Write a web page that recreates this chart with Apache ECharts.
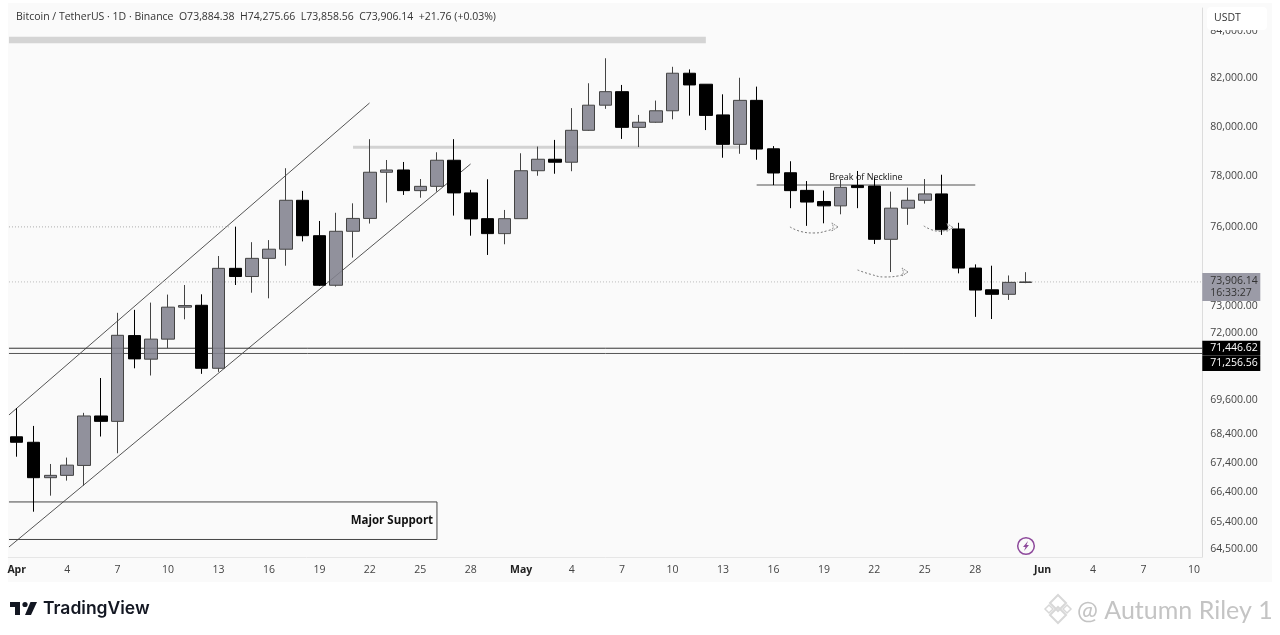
<!DOCTYPE html>
<html><head><meta charset="utf-8">
<style>html,body{margin:0;padding:0;background:#fff}#c{width:1280px;height:635px}</style>
<script src="https://cdn.jsdelivr.net/npm/echarts@6/dist/echarts.min.js"></script>
</head><body><div id="c"></div>
<script>
const dayLabels=['Apr','2','3','4','5','6','7','8','9','10','11','12','13','14','15','16','17','18','19','20','21','22','23','24','25','26','27','28','29','30',
'May','2','3','4','5','6','7','8','9','10','11','12','13','14','15','16','17','18','19','20','21','22','23','24','25','26','27','28','29','30','31',
'Jun','2','3','4','5','6','7','8','9','10'];
const shownDayIndexes=[0,3,6,9,12,15,18,21,24,27,30,33,36,39,42,45,48,51,54,57,61,64,67,70];
const monthLabels=['Apr','May','Jun'];
// open, close, low, high
const candles=[
[68290,68100,67600,69300],[68100,66880,65730,68670],[66880,66960,66270,67350],[66960,67310,66780,67570],[67300,69020,66610,69130],
[69020,68830,68300,70370],[68830,71920,67720,72750],[71910,71060,70720,72860],[71050,71780,70460,73130],[71780,72960,71450,73430],
[72960,73020,72510,73790],[73030,70720,70520,73440],[70720,74420,70590,74890],[74420,74110,73790,76020],[74110,74800,73500,75420],
[74800,75150,73290,75500],[75150,77050,74520,78320],[77050,75670,75450,77420],[75670,73780,73750,76240],[73780,75840,73730,76560],
[75840,76340,74830,76930],[76340,78160,76140,79490],[78160,78250,76960,78650],[78250,77430,77260,78570],[77430,77600,77150,77890],
[77600,78640,77390,78960],[78640,77340,76450,79490],[77340,76320,75670,77460],[76330,75750,74930,77880],[75750,76330,75340,76670],
[76330,78220,76330,78920],[78220,78680,78020,79190],[78680,78560,78100,79460],[78560,79850,78200,80760],[79850,80880,79830,81790],
[80880,81440,80730,82840],[81440,79970,79500,81720],[79970,80180,79170,80480],[80180,80650,80160,81070],[80650,82210,80300,82480],
[82210,81720,80450,82370],[81750,80460,79860,81750],[80480,79280,78740,81330],[79280,81080,78900,82020],[81080,79090,78660,81650],
[79100,78130,77650,79210],[78140,77430,76740,78600],[77440,76980,76050,77810],[77000,76830,76150,77430],[76830,77560,76500,77850],
[77630,77550,76740,78210],[77610,75530,75350,77930],[75530,76740,74280,77390],[76740,77050,76090,77550],[77050,77300,76920,77890],
[77300,75900,75700,78060],[75930,74430,74230,76170],[74430,73600,72600,74570],[73610,73440,72520,74520],[73440,73890,73230,74150],
[73884.38,73906.14,73858.56,74275.66]];
const priceTicks=[84000,82000,80000,78000,76000,73000,72000,69600,68400,67400,66400,65400,64500];
const channelUpper=[[-0.46,69056],[20.98,80970]];
const channelLower=[[-0.46,64557],[26.99,78490]];
const topBand=[[-0.46,83615],[40.98,83615]];
const resistance=[[20,79160],[43,79160]];
const neckline=[[44,77654],[57,77654]];
const dottedLevel=[[-0.46,76010],[12.68,76010]];
const lastPriceLine=[[-0.46,73906.14],[70.5,73906.14]];
const supportHigh=[[-0.46,71446.62],[70.5,71446.62]];
const supportLow=[[-0.46,71256.56],[70.5,71256.56]];
const majorSupportBox=[[-0.46,66058],[24.99,66058],[24.99,64805],[-0.46,64805]];
const arrowA=[[45.98,76009],[46.7,75820],[47.4,75775],[48.2,75860],[48.83,76009]];
const arrowB=[[50.0,74358],[50.8,74190],[51.6,74093],[52.4,74130],[53.0,74282]];
const arrowC=[[53.94,76046],[54.4,75900],[54.9,75840],[55.67,75990]];
const headerText='Bitcoin / TetherUS · 1D · Binance  O73,884.38  H74,275.66  L73,858.56  C73,906.14  +21.76 (+0.03%)';

const font='"Open Sans","Noto Sans",sans-serif';
function lineS(data,color,width,type,z){return {type:'line',xAxisIndex:1,yAxisIndex:0,data,showSymbol:false,symbol:'none',silent:true,z:z||1,animation:false,
 lineStyle:{color,width,type:type||'solid'}};}
function arrowS(pts){const d=pts.map((p,i)=>i===pts.length-1?{value:p,symbol:'arrow',symbolSize:6,symbolRotate:-90,itemStyle:{color:'#fafafa',borderColor:'#777',borderWidth:0.8,borderType:[2,1]}}:{value:p,symbol:'none'});
 return {type:'line',xAxisIndex:1,yAxisIndex:0,data:d,smooth:true,showAllSymbol:true,silent:true,z:3,animation:false,lineStyle:{color:'#777',width:1,type:[2,2]}};}
function tagS(pt,text,bg,fg,off,pad,z){return {type:'scatter',xAxisIndex:1,yAxisIndex:0,data:[pt],symbolSize:0,silent:true,z:z||10,animation:false,clip:false,itemStyle:{opacity:1},
 label:{show:true,position:'right',distance:0,offset:off,formatter:text,backgroundColor:bg,color:fg,fontFamily:font,fontSize:10.5,lineHeight:12,padding:pad,width:48,align:'left'}};}
function textS(pt,text,size,weight){return {type:'scatter',xAxisIndex:1,yAxisIndex:0,data:[pt],symbolSize:0,silent:true,z:6,animation:false,itemStyle:{opacity:1},
 label:{show:true,position:'inside',formatter:text,color:'#111',fontFamily:font,fontSize:size,fontWeight:weight}};}

const chart=echarts.init(document.getElementById('c'),null,{renderer:'canvas',width:1280,height:635});
chart.setOption({
 animation:false,backgroundColor:'#ffffff',
 grid:{left:8.3,right:77.7,top:8,bottom:78,containLabel:false},
 xAxis:[
  {type:'category',data:dayLabels,boundaryGap:true,
   axisLine:{show:true,lineStyle:{color:'#e6e6e6'}},axisTick:{show:false},splitLine:{show:false},
   axisLabel:{interval:i=>shownDayIndexes.includes(i),margin:8,color:'#444',fontFamily:font,fontSize:10.5,hideOverlap:false,
     formatter:v=>monthLabels.includes(v)?'{m|'+v+'}':v,rich:{m:{fontWeight:'bold',color:'#222',fontFamily:font,fontSize:10.5}}}},
  {type:'value',show:false,min:-0.5,max:70.5}
 ],
 yAxis:[{type:'log',logBase:10,min:64228,max:84992,position:'right',
   axisLine:{show:true,onZero:false,lineStyle:{color:'#dcdcdc'}},axisTick:{show:false},splitLine:{show:false},minorTick:{show:false},
   axisLabel:{customValues:priceTicks,margin:8,color:'#444',fontFamily:font,fontSize:10.5,padding:[3,0,0,0],
     formatter:v=>Number(v).toLocaleString('en-US',{minimumFractionDigits:2,maximumFractionDigits:2})}}],
 series:[
  lineS(topBand,'#d4d4d4',6.5),
  lineS(resistance,'#d2d2d2',3),
  lineS(channelUpper,'#555',1),
  lineS(channelLower,'#555',1),
  lineS(dottedLevel,'#aaa',1,[1,2]),
  lineS(lastPriceLine,'#bbb',1,[1,2]),
  lineS(supportHigh,'#333',1),
  lineS(supportLow,'#555',1),
  lineS(majorSupportBox,'#444',1),
  lineS(neckline,'#888',1.5),
  {type:'candlestick',xAxisIndex:0,yAxisIndex:0,data:candles,barWidth:13,z:2,silent:true,animation:false,
   itemStyle:{color:'rgba(130,130,142,0.88)',color0:'#000',borderColor:'#444',borderColor0:'#000',borderWidth:1}},
  arrowS(arrowA),arrowS(arrowB),arrowS(arrowC),
  textS([22.31,65430],'Major Support',11.5,'bold'),
  textS([50.5,77950],'Break of Neckline',9,'normal'),
  tagS([70.5,73906.14],'73,906.14\n16:33:27','#9b9ba7','#333',[0,5],[2,2,2,8]),
  tagS([70.5,71446.62],'71,446.62','#000','#fff',[0,0],[2,2,1,8],11),
  tagS([70.5,71256.56],'71,256.56','#000','#fff',[0,10],[2,2,1,8],11)
 ],
 graphic:[
  {type:'rect',z:-10,silent:true,shape:{x:8,y:3,width:1264,height:579},style:{fill:'#fafafa'}},
  {type:'text',z:100,style:{x:16,y:17,text:headerText,font:'10.5px '+font,fill:'#333',textVerticalAlign:'middle'}},
  {type:'rect',z:100,shape:{x:1207,y:7,width:60,height:23,r:4},style:{fill:'#fff'}},
  {type:'text',z:101,style:{x:1214,y:18,text:'USDT',font:'10.5px '+font,fill:'#333',textVerticalAlign:'middle'}},
  {type:'circle',z:100,shape:{cx:1026,cy:546,r:8.3},style:{fill:'#fafafa',stroke:'#8e4a9c',lineWidth:1.5}},
  {type:'polygon',z:101,shape:{points:[[1028,541],[1023,547],[1025.5,547],[1024,551],[1029,545],[1026.5,545]]},style:{fill:'#8e4a9c'}},
  {type:'rect',z:100,shape:{x:10,y:602,width:10,height:5},style:{fill:'#131722'}},
  {type:'rect',z:100,shape:{x:15,y:602,width:5,height:13},style:{fill:'#131722'}},
  {type:'circle',z:100,shape:{cx:25,cy:604.5,r:2.6},style:{fill:'#131722'}},
  {type:'polygon',z:100,shape:{points:[[30.5,602],[37,602],[31,615],[25,615]]},style:{fill:'#131722'}},
  {type:'text',z:100,style:{x:43,y:608.5,text:'TradingView',font:'600 17.5px Inter,sans-serif',fill:'#131722',textVerticalAlign:'middle'}},
  {type:'polygon',z:100,shape:{points:[[1058,595],[1066,603],[1058,611],[1050,603]]},style:{fill:'none',stroke:'#d8d8d8',lineWidth:2}},
  {type:'polygon',z:100,shape:{points:[[1058,607],[1066,615],[1058,623],[1050,615]]},style:{fill:'none',stroke:'#d8d8d8',lineWidth:2}},
  {type:'polygon',z:100,shape:{points:[[1049,605],[1053,609],[1049,613],[1045,609]]},style:{fill:'none',stroke:'#d8d8d8',lineWidth:1.5}},
  {type:'polygon',z:100,shape:{points:[[1067,605],[1071,609],[1067,613],[1063,609]]},style:{fill:'none',stroke:'#d8d8d8',lineWidth:1.5}},
  {type:'text',z:100,style:{x:1077,y:611,text:'@ Autumn Riley 1',font:'25px Lato,sans-serif',fill:'#c4c4c4',textVerticalAlign:'middle'}}
 ]
});
</script></body></html>
